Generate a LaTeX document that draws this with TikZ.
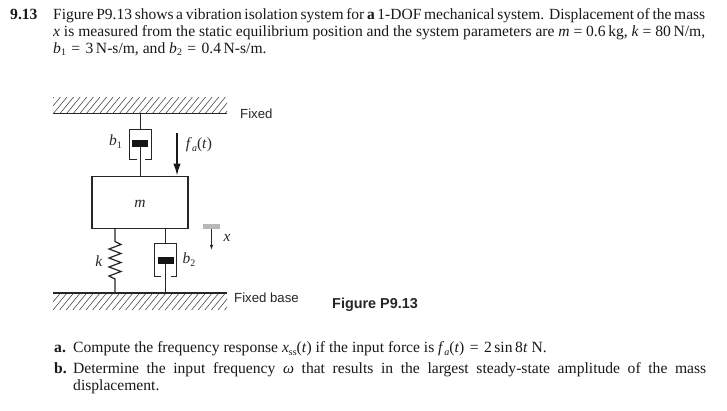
\documentclass[tikz,border=0pt]{standalone}
\usepackage{fontspec}
\setmainfont{Liberation Serif}
\setsansfont{Liberation Sans}
\usetikzlibrary{arrows.meta,decorations.pathmorphing}
\newcommand{\lowsub}[1]{\raisebox{-2.8pt}{\fontsize{10}{10}\selectfont #1}}
\newcommand{\vr}[1]{\textit{#1}}
\newcommand{\bodyline}[2]{\makebox[#1pt][s]{#2}}
\newcommand{\eqs}{\hspace{5.4pt}=\hspace{5.4pt}}
\newcommand{\qlabel}[1]{\makebox[19pt][l]{\textbf{#1}}}
\tikzset{
  line/.style={draw=black!85,line width=1pt},
  body/.style={inner sep=0pt,anchor=base west,font=\fontsize{15.6}{16}\selectfont,text=black!90},
  lab/.style={inner sep=0pt,font=\fontsize{15.5}{16}\selectfont,text=black!85},
  sanslab/.style={inner sep=0pt,anchor=west,font=\sffamily\fontsize{13.2}{15}\selectfont,text=black!85},
  hatchline/.style={draw=black!75,line width=0.55pt},
  piston/.style={fill=black!92,draw=none,inner sep=0pt,minimum height=7pt},
}
\begin{document}
\begin{tikzpicture}[x=1pt,y=-1pt]
\useasboundingbox[fill=white] (0,0) rectangle (727,410);
% problem text
\node[body,font=\bfseries\fontsize{15.6}{16}\selectfont] (num) at (10,19.5) {9.13};
\node[body,font=\fontsize{15.5}{16}\selectfont] (l1) at (53,19.5) {\bodyline{652}{Figure P9.13 shows a vibration isolation system for \textbf{a} 1-DOF mechanical system. Displacement of the mass}};
\node[body] (l2) at (53,36.5) {\bodyline{652}{\vr{x} is measured from the static equilibrium position and the system parameters are \vr{m} = 0.6\,kg, \vr{k} = 80\,N/m,}};
\node[body] (l3) at (53,53) {\vr{b}\lowsub{1}\eqs 3\,N-s/m, and \vr{b}\lowsub{2}\eqs 0.4\,N-s/m.};
\node[body] (qa) at (54,352.7) {\qlabel{a.}Compute the frequency response \vr{x}\lowsub{ss}(\vr{t}) if the input force is \vr{f}\lowsub{\vr{a}}(\vr{t})\eqs 2\,sin\,8\vr{t} N.};
\node[body] (qb) at (54,373) {\bodyline{652}{\qlabel{b.}Determine the input frequency \vr{ω} that results in the largest steady-state amplitude of the mass}};
\node[body] (qc) at (73,390) {displacement.};
% walls
\begin{scope}
\clip (53,97) rectangle (227,113.5);
\foreach \i in {-3,...,26} \draw[hatchline] (53+\i*6.6,114)--(53+\i*6.6+14,97);
\end{scope}
\begin{scope}
\clip (53,293) rectangle (227,310);
\foreach \i in {-3,...,26} \draw[hatchline] (53+\i*6.6,310)--(53+\i*6.6+14,293);
\end{scope}
\coordinate (wallL) at (53,113.5); \coordinate (wallR) at (227,113.5);
\coordinate (baseL) at (53,293); \coordinate (baseR) at (227,293);
\draw[line,line width=1.2pt] (wallL)--(wallR);
\draw[line,line width=1.2pt] (baseL)--(baseR);
% mass
\node[line,draw,minimum width=96pt,minimum height=52.5pt,inner sep=0pt,line width=1.1pt] (mass) at (140,202.3) {};
\node[lab] (mlab) at (140,204) {\vr{m}};
% damper 1
\coordinate (w1) at (140,113.5);
\coordinate (c1) at (140,129);
\node[piston,minimum width=16pt] (p1) at (140,143.5) {};
\draw[line] (w1)--(c1);
\draw[line] (137,159)--(129,159)--(129,129)--(151,129)--(151,159)--(145,159);
\draw[line] (p1.south)--(p1.south |- mass.north);
% force
\coordinate (f0) at (177,133);
\draw[draw=black!90,line width=1.5pt,-{Latex[length=12pt,width=7.5pt]}] (f0)--(f0 |- mass.north);
% spring
\coordinate (s0) at (115,228.5);
\coordinate (s1) at (115,293);
\draw[line,line width=1.2pt] (s0)--(115,241.5)--(121,244.5)--(109,249)--(121,253.5)--(109,258)--(121,262.5)--(109,267)--(121,271.5)--(109,276)--(115,279)--(s1);
% damper 2
\coordinate (m2) at (165.7,228.5);
\coordinate (b2) at (165.7,293);
\node[piston,minimum width=16pt] (p2) at (165.7,260.5) {};
\draw[line] (m2)--(165.7,243);
\draw[line] (160.5,276)--(154.7,276)--(154.7,243)--(176.7,243)--(176.7,276)--(170.5,276);
\draw[line] (p2.south)--(b2);
% reference
\node[fill=black!28,draw=none,minimum width=17pt,minimum height=5.5pt,inner sep=0pt] (ref) at (211.5,226.5) {};
\draw[draw=black!85,line width=0.8pt,-{Latex[length=5pt,width=3.5pt]}] (ref.south)--++(0,20.5) coordinate (refend);
% labels
\node[lab] (b1lab) at (115.5,142) {\vr{b}\lowsub{1}};
\node[lab] (falab) at (199,145) {\vr{f}\lowsub{\vr{a}}(\vr{t})};
\node[lab] (klab) at (99,261) {\vr{k}};
\node[lab] (b2lab) at (189,260) {\vr{b}\lowsub{2}};
\node[lab] (xlab) at (227,238) {\vr{x}};
\node[sanslab] (fixed) at (240,113.5) {Fixed};
\node[sanslab] (fbase) at (234,298) {Fixed base};
\node[sanslab,font=\sffamily\bfseries\fontsize{14.4}{15}\selectfont] (fig) at (332,305) {Figure P9.13};
\end{tikzpicture}
\end{document}
